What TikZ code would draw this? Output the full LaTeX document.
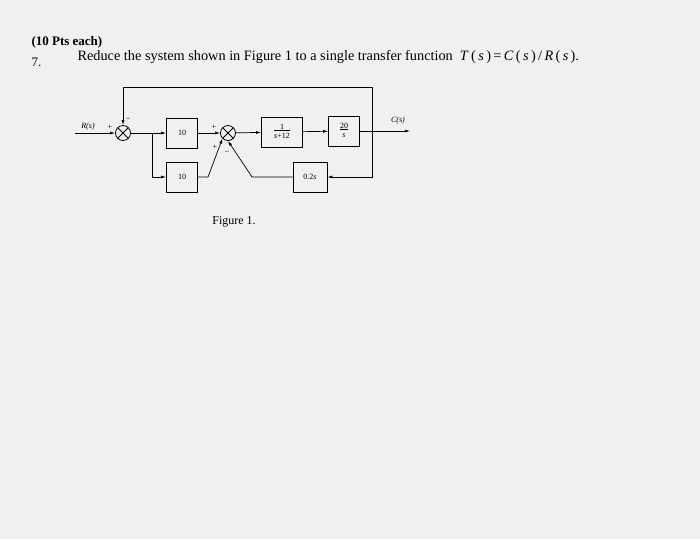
\documentclass[tikz,border=0pt]{standalone}
\usepackage{fontspec}
\setmainfont{Liberation Serif}
\usetikzlibrary{arrows.meta}
\begin{document}
\begin{tikzpicture}[x=1pt,y=-1pt,
  blk/.style={draw,line width=0.8pt,minimum width=31pt,minimum height=30pt,inner sep=0pt,font=\fontsize{8}{9}\selectfont},
  sumj/.style={draw,circle,line width=0.8pt,minimum size=15pt,inner sep=0pt,path picture={\draw[line width=0.8pt] (path picture bounding box.south west)--(path picture bounding box.north east) (path picture bounding box.north west)--(path picture bounding box.south east);}},
  sig/.style={line width=0.7pt,-{Latex[length=5pt,width=3pt]}},
  ln/.style={line width=0.7pt},
  sg/.style={font=\fontsize{8}{8}\selectfont,inner sep=0pt}]
\fill[gray!12] (0,0) rectangle (700,539);
\useasboundingbox (0,0) rectangle (700,539);
\node[anchor=west,font=\bfseries\fontsize{13}{14}\selectfont] (hdr) at (28,42) {(10 Pts each)};
\node[anchor=west,font=\fontsize{13}{14}\selectfont] (num) at (28,62) {7.};
\node[anchor=west,font=\fontsize{14.3}{15}\selectfont] (q) at (74,57) {Reduce the system shown in Figure 1 to a single transfer function\enspace \textit{T}\,(\,\textit{s}\,)\,=\,\textit{C}\,(\,\textit{s}\,)\,/\,\textit{R}\,(\,\textit{s}\,).};
\node[font=\fontsize{12}{13}\selectfont] (fig) at (234,222) {Figure 1.};

\node[sumj] (s1) at (123,133) {};
\node[sumj] (s2) at (228,133) {};
\node[blk] (b1) at (182,133) {10};
\node[blk] (b2) at (182,177) {10};
\node[blk,minimum width=41pt] (g1) at (282,132) {\begin{tabular}{@{}c@{}}1\\[-2pt]\hline\rule{0pt}{8pt}\textit{s}+12\end{tabular}};
\node[blk] (g2) at (344,131) {\begin{tabular}{@{}c@{}}20\\[-2pt]\hline\rule{0pt}{8pt}\textit{s}\end{tabular}};
\node[blk,minimum width=34pt] (h) at (310,177) {0.2\textit{s}};
\node[font=\fontsize{8}{9}\selectfont\itshape] (rl) at (88,127) {R(s)};
\node[font=\fontsize{8}{9}\selectfont\itshape] (cl) at (398,121) {C(s)};
\coordinate (rin) at (75,133);
\coordinate (cout) at (410,131);
\coordinate (tap) at (372,131);
\coordinate (br) at (152,133);
\coordinate (top) at (372,87);

\draw[sig] (rin) -- (s1);
\draw[ln] (s1) -- (br);
\draw[sig] (br) -- (b1);
\draw[sig] (br) |- (b2);
\draw[sig] (b1) -- (s2);
\draw[sig] (s2) -- (g1);
\draw[sig] (g1) -- (g2);
\draw[sig] (g2) -- (cout);
\draw[sig] (tap) |- (top) -| (s1);
\draw[sig] (tap) |- (h);
\draw[sig] (b2.east) -- (208,177) -- (s2.south west);
\draw[sig] (h.west) -- (252,177) -- (s2.south);

\node[sg] at (110,127) {+};
\node[sg] at (128,119) {\textendash};
\node[sg] at (214,127) {+};
\node[sg] at (215,147) {+};
\node[sg] at (227,152) {\textendash};
\end{tikzpicture}
\end{document}
